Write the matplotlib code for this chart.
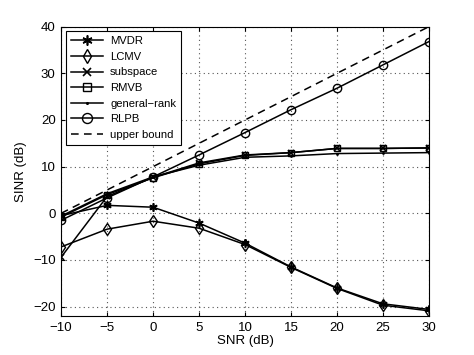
import matplotlib
matplotlib.use("Agg")
import matplotlib.pyplot as plt

plt.rcParams['font.family'] = ['Liberation Sans', 'DejaVu Sans']

snr = [-10, -5, 0, 5, 10, 15, 20, 25, 30]
mvdr = [-0.5, 1.7, 1.3, -2.1, -6.4, -11.5, -16.0, -19.4, -20.6]
lcmv = [-7.2, -3.4, -1.7, -3.2, -6.7, -11.6, -16.1, -19.7, -20.9]
subspace = [-9.4, 3.6, 7.7, 10.8, 12.5, 13.0, 13.9, 13.9, 14.0]
rmvb = [-0.8, 4.0, 7.6, 10.6, 12.4, 13.0, 13.9, 13.9, 14.0]
general_rank = [-0.6, 4.2, 7.8, 10.3, 12.0, 12.3, 12.8, 12.9, 13.0]
rlpb = [-1.5, 3.3, 7.8, 12.5, 17.3, 22.2, 26.8, 31.8, 36.8]
upper = [0, 5, 10, 15, 20, 25, 30, 35, 40]

labels = ['MVDR', 'LCMV', 'subspace', 'RMVB', 'general\u2212rank', 'RLPB', 'upper bound']

fig = plt.figure(figsize=(4.74, 3.55), dpi=100)
ax = fig.add_axes([0.129, 0.110, 0.776, 0.815])

lw = 1.1
ax.plot(snr, mvdr, 'k-', marker=(6, 2, 0), ms=6, lw=lw, mew=1.2, label=labels[0])
ax.plot(snr, lcmv, 'k-', marker='d', ms=6, lw=lw, mfc='none', mew=1.0, label=labels[1])
ax.plot(snr, subspace, 'k-', marker='x', ms=5, lw=lw, mew=1.2, label=labels[2])
ax.plot(snr, rmvb, 'k-', marker='s', ms=5, lw=lw, mfc='none', mew=1.0, label=labels[3])
ax.plot(snr, general_rank, 'k-', marker='.', ms=2, lw=lw, label=labels[4])
ax.plot(snr, rlpb, 'k-', marker='o', ms=6, lw=lw, mfc='none', mew=1.0, label=labels[5])
ax.plot(snr, upper, 'k--', lw=lw, dashes=(5, 3.5), label=labels[6])

ax.set_xlim(-10, 30)
ax.set_ylim(-22, 40)
ax.set_xticks([-10, -5, 0, 5, 10, 15, 20, 25, 30])
ax.set_yticks([-20, -10, 0, 10, 20, 30, 40])
ax.set_xticklabels(['\u221210', '\u22125', '0', '5', '10', '15', '20', '25', '30'])
ax.set_yticklabels(['\u221220', '\u221210', '0', '10', '20', '30', '40'])
ax.tick_params(direction='in', length=3, labelsize=9.5, width=0.8, top=True, right=True, pad=4)
ax.grid(True, linestyle=(0, (1, 3)), color='#555555', lw=0.8)
for s in ax.spines.values():
    s.set_linewidth(0.8)
ax.set_xlabel('SNR (dB)', fontsize=9.5, labelpad=1)
ax.set_ylabel('SINR (dB)', fontsize=9.5, labelpad=4)

leg = ax.legend(loc='upper left', fontsize=8.1, frameon=True, fancybox=False,
                edgecolor='black', framealpha=1, borderpad=0.45, labelspacing=0.5,
                handlelength=2.9, handletextpad=0.6, borderaxespad=0.4, markerscale=1.2)
leg.get_frame().set_linewidth(0.8)

fig.savefig('out.png', dpi=100)
